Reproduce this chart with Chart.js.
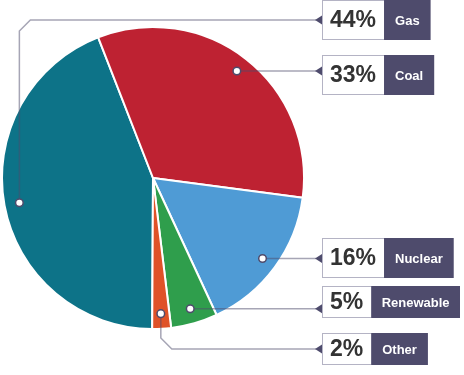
<!DOCTYPE html>
<html>
<head>
<meta charset="utf-8">
<script src="https://cdn.jsdelivr.net/npm/chart.js@4"></script>
<style>
  html, body { margin: 0; padding: 0; background: #ffffff; }
  #energyChart { display: block; }
</style>
</head>
<body>
<canvas id="energyChart" width="464" height="375"></canvas>
<script>
// datos del gráfico
const categories = ['Gas', 'Coal', 'Nuclear', 'Renewable', 'Other'];
const shares = [44, 33, 16, 5, 2];
const sliceColors = ['#0d7388', '#be2232', '#4f9bd5', '#2f9e4c', '#df5228'];

// posición de las etiquetas (cajas a la derecha)
const boxTops = [0, 55, 238, 286, 333];
const boxHeights = [40, 40, 40, 32, 32];
const BOX_LEFT = 322;
const DARK = '#4e4b6c';
const LINE = 'rgba(78, 75, 108, 0.5)';

const calloutPlugin = {
  id: 'callouts',
  afterDatasetsDraw(chart) {
    const ctx = chart.ctx;
    const meta = chart.getDatasetMeta(0);
    ctx.save();

    meta.data.forEach((arc, i) => {
      const p = arc.getProps(['x', 'y', 'startAngle', 'endAngle', 'outerRadius'], true);
      const mid = (p.startAngle + p.endAngle) / 2;
      const r = p.outerRadius * 0.9;
      const dx = p.x + Math.cos(mid) * r;
      const dy = p.y + Math.sin(mid) * r;
      const boxMid = boxTops[i] + boxHeights[i] / 2;

      // línea de conexión
      ctx.strokeStyle = LINE;
      ctx.lineWidth = 1.5;
      ctx.beginPath();
      ctx.moveTo(dx, dy);
      if (Math.abs(dy - boxMid) < 8) {
        ctx.lineTo(BOX_LEFT - 6, dy);
      } else {
        const d = 11;
        const sign = dy > boxMid ? 1 : -1;
        ctx.lineTo(dx, boxMid + sign * d);
        ctx.lineTo(dx + d, boxMid);
        ctx.lineTo(BOX_LEFT - 6, boxMid);
      }
      ctx.stroke();

      // punto
      ctx.beginPath();
      ctx.arc(dx, dy, 3.8, 0, Math.PI * 2);
      ctx.fillStyle = '#ffffff';
      ctx.fill();
      ctx.strokeStyle = DARK;
      ctx.lineWidth = 1.5;
      ctx.stroke();

      // caja
      const top = boxTops[i];
      const h = boxHeights[i];
      const pct = shares[i] + '%';
      ctx.font = 'bold 23px "Liberation Sans", Arial, sans-serif';
      const pw = ctx.measureText(pct).width + 16;
      ctx.font = 'bold 13px "Liberation Sans", Arial, sans-serif';
      const lw = ctx.measureText(categories[i]).width;
      let darkW = lw + 22;
      const darkX = BOX_LEFT + pw;
      if (darkX + darkW > 460) darkW = 460 - darkX;

      ctx.fillStyle = '#ffffff';
      ctx.fillRect(BOX_LEFT, top, pw, h);
      ctx.strokeStyle = '#b4b3c4';
      ctx.lineWidth = 1;
      ctx.strokeRect(BOX_LEFT + 0.5, top + 0.5, pw, h - 1);
      ctx.fillStyle = DARK;
      ctx.fillRect(darkX, top, darkW, h);

      // flecha
      const ay = Math.abs(dy - boxMid) < 8 ? dy : boxMid;
      ctx.beginPath();
      ctx.moveTo(BOX_LEFT, ay - 4.5);
      ctx.lineTo(BOX_LEFT - 7, ay);
      ctx.lineTo(BOX_LEFT, ay + 4.5);
      ctx.closePath();
      ctx.fillStyle = DARK;
      ctx.fill();

      // textos
      ctx.textBaseline = 'middle';
      ctx.textAlign = 'left';
      ctx.fillStyle = '#333333';
      ctx.font = 'bold 23px "Liberation Sans", Arial, sans-serif';
      ctx.fillText(pct, BOX_LEFT + 8, boxMid + 1);
      ctx.fillStyle = '#ffffff';
      ctx.font = 'bold 13px "Liberation Sans", Arial, sans-serif';
      ctx.textAlign = 'center';
      ctx.fillText(categories[i], darkX + darkW / 2, boxMid + 1);
    });

    ctx.restore();
  }
};

new Chart(document.getElementById('energyChart'), {
  type: 'pie',
  data: {
    labels: categories,
    datasets: [{
      data: shares,
      backgroundColor: sliceColors,
      borderColor: '#ffffff',
      borderWidth: 2,
      hoverOffset: 0
    }]
  },
  options: {
    responsive: false,
    animation: false,
    rotation: 180.3,
    layout: {
      padding: { left: 1, top: 26, right: 159, bottom: 45 }
    },
    plugins: {
      legend: { display: false },
      tooltip: { enabled: false }
    }
  },
  plugins: [calloutPlugin]
});
</script>
</body>
</html>
